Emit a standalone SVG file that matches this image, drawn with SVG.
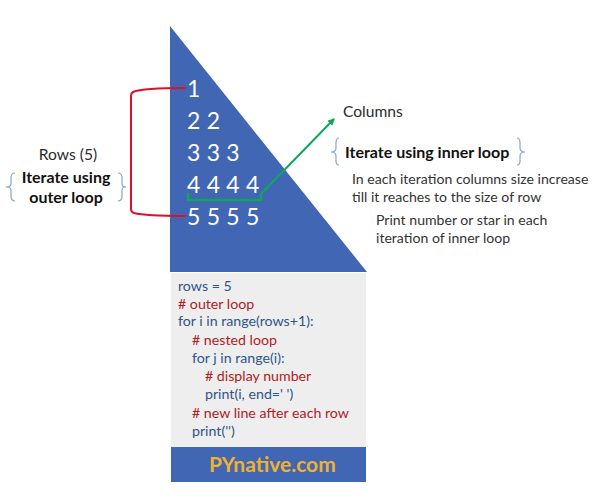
<svg xmlns="http://www.w3.org/2000/svg" width="601" height="500" viewBox="0 0 601 500">
<defs>
<style>
text{font-family:Lato,"Open Sans","Liberation Sans",sans-serif}
.num{font-size:23px;fill:#fff;letter-spacing:0.2px}
.lab{font-size:15.6px;fill:#2b2b2b}
.b{font-size:16px;font-weight:700;fill:#111}
.d{font-size:14.1px;fill:#333}
.c{font-size:14.2px;fill:#2f5587}
.r{font-size:14.2px;fill:#b01c24}
.br{fill:none;stroke:#8aa5cc;stroke-width:1.2}
.red{fill:none;stroke:#dc0f2d;stroke-width:2}
.grn{fill:none;stroke:#0fa65a;stroke-width:2}
.grn2{fill:none;stroke:#0fa65a;stroke-width:2.6}
</style>
<marker id="ah" markerWidth="8" markerHeight="8" refX="6" refY="3.5" orient="auto" markerUnits="userSpaceOnUse"><path d="M0 0L7 3.5L0 7z" fill="#0fa65a"/></marker>
</defs>
<rect width="601" height="500" fill="#fff"/>
<g id="triangle"><path d="M170 26L367 272H170z" fill="#4066b4"/>
<text class="num" x="187" y="97">1</text>
<text class="num" x="187" y="129">2 2</text>
<text class="num" x="187" y="161">3 3 3</text>
<text class="num" x="187" y="193">4 4 4 4</text>
<text class="num" x="187" y="225">5 5 5 5</text></g>
<g id="code-box"><rect x="171" y="273" width="195" height="174" fill="#eeeeee"/>
<text class="c" x="178" y="291">rows = 5</text>
<text class="r" x="178" y="309"># outer loop</text>
<text class="c" x="178" y="326">for i in range(rows+1):</text>
<text class="r" x="192" y="345"># nested loop</text>
<text class="c" x="192" y="363">for j in range(i):</text>
<text class="r" x="205" y="381"># display number</text>
<text class="c" x="205" y="399">print(i, end=' ')</text>
<text class="r" x="192" y="418"># new line after each row</text>
<text class="c" x="192" y="436">print('')</text></g>
<g id="banner"><rect x="171" y="447" width="195" height="35" fill="#4066b4"/>
<text x="209" y="472" font-size="21" font-weight="700" fill="#f2b12c">PYnative.com</text></g>
<g id="rows-label">
<text class="lab" x="68" y="160" text-anchor="middle">Rows (5)</text>
<text class="b" x="66" y="183" text-anchor="middle">Iterate using</text>
<text class="b" x="66" y="203" text-anchor="middle">outer loop</text>
<path class="br" d="M15 173Q11 173 11 178V184Q11 187 6 187Q11 187 11 190V196Q11 201 15 201"/>
<path class="br" d="M118 173Q122 173 122 178V184Q122 187 126 187Q122 187 122 190V196Q122 201 118 201"/>
</g>
<g id="columns-label">
<text class="lab" x="343" y="117">Columns</text>
<text class="b" x="345" y="158">Iterate using inner loop</text>
<path class="br" d="M339 138Q336 138 336 143V148Q336 152 331 152Q336 152 336 156V161Q336 165 339 165"/>
<path class="br" d="M517 138Q520 138 520 143V148Q520 152 525 152Q520 152 520 156V161Q520 165 517 165"/>
<text class="d" x="352" y="184">In each iteration columns size increase</text>
<text class="d" x="352" y="202">till it reaches to the size of row</text>
<text class="d" x="376" y="225">Print number or star in each</text>
<text class="d" x="376" y="243">iteration of inner loop</text>
</g>
<g id="connectors">
<path class="red" d="M186 88C160 88 140 89 133 92Q131 93 131 96V209Q131 212 134 213C145 216 165 216 186 216"/>
<path class="grn2" d="M188 193V200H261V194"/>
<path class="grn" d="M261 194L334 119" marker-end="url(#ah)"/>
</g>
</svg>
